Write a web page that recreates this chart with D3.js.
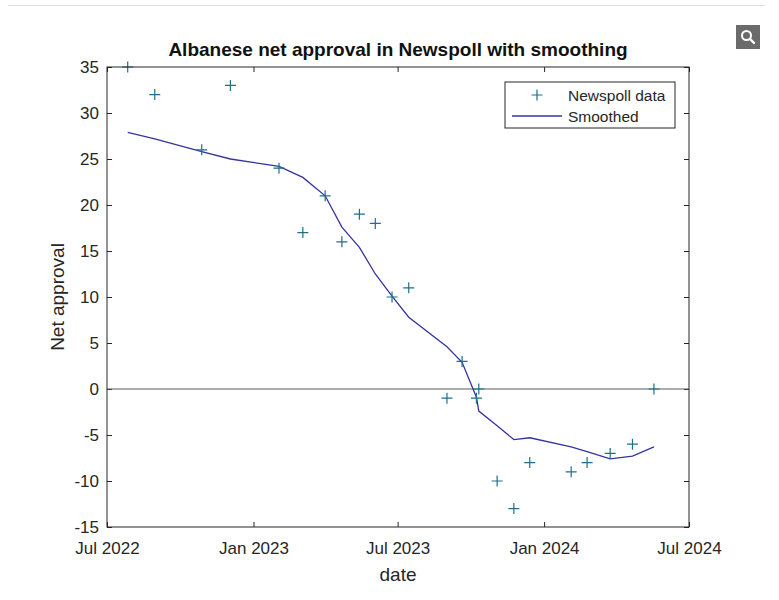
<!DOCTYPE html>
<html>
<head>
<meta charset="utf-8">
<script src="https://cdn.jsdelivr.net/npm/d3@7"></script>
<style>
  body { margin: 0; background: white; }
  svg { display: block; font-family: "Liberation Sans", Arial, sans-serif; }
</style>
</head>
<body>
<div id="chart"></div>
<script>
// poll dates and values
const pollDates = [
  '2022-07-27', '2022-08-30', '2022-10-28', '2022-12-03', '2023-02-02', '2023-03-04',
  '2023-04-01', '2023-04-22', '2023-05-14', '2023-06-03', '2023-06-24', '2023-07-15',
  '2023-09-01', '2023-09-20', '2023-10-08', '2023-10-11', '2023-11-03', '2023-11-24',
  '2023-12-14', '2024-02-04', '2024-02-24', '2024-03-24', '2024-04-21', '2024-05-18'
];
const netApproval = [35, 32, 26, 33, 24, 17, 21, 16, 19, 18, 10, 11, -1, 3, -1, 0, -10, -13, -8, -9, -8, -7, -6, 0];
const smoothed = [27.9, 27.2, 25.8, 25.0, 24.2, 23.0, 21.0, 17.6, 15.4, 12.5, 10.1, 7.8, 4.6, 2.9, -0.9, -2.4, -4.0, -5.5, -5.3, -6.3, -6.8, -7.6, -7.3, -6.3];
const xTickDates = ['2022-07-01', '2023-01-01', '2023-07-01', '2024-01-01', '2024-07-01'];
const yTicks = [-15, -10, -5, 0, 5, 10, 15, 20, 25, 30, 35];

const axisColor = '#262626';
const markerColor = '#1f6f8b';
const lineColor = '#34349e';
const zeroColor = '#5a5a5a';
const tickLen = 5;

const parseDate = d3.timeParse('%Y-%m-%d');
const fmtTick = d3.timeFormat('%b %Y');

const width = 779, height = 600;
const box = {left: 107, top: 67, right: 689, bottom: 527};

const data = pollDates.map((d, i) => ({
  date: parseDate(d), value: netApproval[i], smooth: smoothed[i]
}));

const svg = d3.select('#chart').append('svg')
  .attr('width', width)
  .attr('height', height);

// page chrome: top rule and magnifier button
svg.append('line')
  .attr('x1', 8).attr('x2', 765).attr('y1', 5.5).attr('y2', 5.5)
  .attr('stroke', '#dedede');
const zoomBtn = svg.append('g').attr('transform', 'translate(736,25)');
zoomBtn.append('rect').attr('width', 24).attr('height', 24).attr('fill', '#6b6b6b');
zoomBtn.append('circle').attr('cx', 10.5).attr('cy', 10.5).attr('r', 4.5)
  .attr('fill', 'none').attr('stroke', 'white').attr('stroke-width', 2);
zoomBtn.append('line').attr('x1', 14).attr('y1', 14).attr('x2', 18).attr('y2', 18)
  .attr('stroke', 'white').attr('stroke-width', 2.4).attr('stroke-linecap', 'round');

const xScale = d3.scaleTime()
  .domain([parseDate(xTickDates[0]), parseDate(xTickDates[xTickDates.length - 1])])
  .range([box.left, box.right]);

const yScale = d3.scaleLinear()
  .domain([-15, 35])
  .range([box.bottom, box.top]);

const tickVals = xTickDates.map(parseDate);

// axes: bottom/left labelled, top/right ticks only, all ticks inward
function styleAxis(g) {
  g.select('.domain').remove();
  g.selectAll('line').attr('stroke', axisColor);
  g.selectAll('text')
    .attr('fill', axisColor)
    .attr('font-size', '17px')
    .attr('font-family', '"Liberation Sans", Arial, sans-serif');
}

svg.append('g')
  .attr('transform', `translate(0,${box.bottom})`)
  .call(d3.axisBottom(xScale).tickValues(tickVals).tickFormat(fmtTick)
    .tickSizeInner(-tickLen).tickSizeOuter(0).tickPadding(15))
  .call(styleAxis);

svg.append('g')
  .attr('transform', `translate(0,${box.top})`)
  .call(d3.axisTop(xScale).tickValues(tickVals).tickFormat('')
    .tickSizeInner(-tickLen).tickSizeOuter(0))
  .call(styleAxis);

svg.append('g')
  .attr('transform', `translate(${box.left},0)`)
  .call(d3.axisLeft(yScale).tickValues(yTicks).tickFormat(d => String(d))
    .tickSizeInner(-tickLen).tickSizeOuter(0).tickPadding(8))
  .call(styleAxis);

svg.append('g')
  .attr('transform', `translate(${box.right},0)`)
  .call(d3.axisRight(yScale).tickValues(yTicks).tickFormat('')
    .tickSizeInner(-tickLen).tickSizeOuter(0))
  .call(styleAxis);

// zero reference line
svg.append('line')
  .attr('x1', box.left).attr('x2', box.right)
  .attr('y1', yScale(0)).attr('y2', yScale(0))
  .attr('stroke', zeroColor)
  .attr('stroke-width', 1);

// smoothed line
const line = d3.line()
  .x(d => xScale(d.date))
  .y(d => yScale(d.smooth));

svg.append('path')
  .datum(data)
  .attr('fill', 'none')
  .attr('stroke', lineColor)
  .attr('stroke-width', 1.3)
  .attr('d', line);

// plus markers
function drawPlus(g, x, y, r) {
  g.append('path')
    .attr('d', `M${x - r},${y}H${x + r}M${x},${y - r}V${y + r}`)
    .attr('stroke', markerColor)
    .attr('stroke-width', 1.2)
    .attr('fill', 'none');
}

const markers = svg.append('g');
data.forEach(d => drawPlus(markers, xScale(d.date), yScale(d.value), 5.5));

// axes box
svg.append('rect')
  .attr('x', box.left).attr('y', box.top)
  .attr('width', box.right - box.left).attr('height', box.bottom - box.top)
  .attr('fill', 'none')
  .attr('stroke', axisColor)
  .attr('stroke-width', 1);

// title and labels
svg.append('text')
  .attr('x', (box.left + box.right) / 2)
  .attr('y', 56)
  .attr('text-anchor', 'middle')
  .attr('font-size', '19px')
  .attr('font-weight', 'bold')
  .attr('fill', '#111')
  .text('Albanese net approval in Newspoll with smoothing');

svg.append('text')
  .attr('x', (box.left + box.right) / 2)
  .attr('y', 581)
  .attr('text-anchor', 'middle')
  .attr('font-size', '19px')
  .attr('fill', axisColor)
  .text('date');

svg.append('text')
  .attr('transform', `translate(64,${(box.top + box.bottom) / 2}) rotate(-90)`)
  .attr('text-anchor', 'middle')
  .attr('font-size', '19px')
  .attr('fill', axisColor)
  .text('Net approval');

// legend
const legend = svg.append('g').attr('transform', 'translate(505,82)');
legend.append('rect')
  .attr('width', 170).attr('height', 46)
  .attr('fill', 'white')
  .attr('stroke', axisColor);
drawPlus(legend, 32, 13, 5.5);
legend.append('line')
  .attr('x1', 7).attr('x2', 57).attr('y1', 34).attr('y2', 34)
  .attr('stroke', lineColor).attr('stroke-width', 1.3);
legend.append('text')
  .attr('x', 63).attr('y', 19)
  .attr('font-size', '15.5px').attr('fill', axisColor)
  .text('Newspoll data');
legend.append('text')
  .attr('x', 63).attr('y', 40)
  .attr('font-size', '15.5px').attr('fill', axisColor)
  .text('Smoothed');
</script>
</body>
</html>
